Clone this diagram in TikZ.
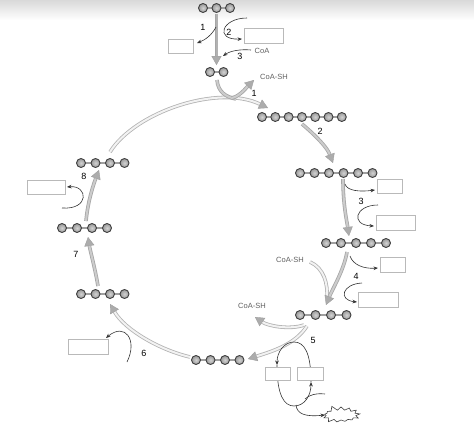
\documentclass[tikz,border=0pt]{standalone}
\usepackage{fontspec}
\setsansfont{Liberation Sans}
\usetikzlibrary{arrows.meta,shapes.symbols}

\tikzset{
  ball/.style={circle,inner sep=0pt,minimum size=9pt,draw=black!75,line width=0.9pt,inner color=gray!35,outer color=gray!80},
  bond/.style={draw=gray!75,line width=1.2pt},
  flow/.style={draw=gray!70,double=gray!40,double distance=2pt,line width=0.8pt,
    -{Triangle[length=9pt,width=10pt,color=gray!75,fill=gray!65,line width=0.4pt]}},
  tube/.style={flow,draw=gray!60,double=gray!10},
  side/.style={draw=black!80,line width=0.6pt,-{Stealth[length=4.5pt,width=3.6pt]}},
  plain/.style={draw=black!80,line width=0.6pt},
  box/.style={draw=gray!55,line width=0.8pt,fill=white,inner sep=0pt},
  num/.style={font=\sffamily\fontsize{9}{10}\selectfont},
  coa/.style={font=\sffamily\fontsize{7.5}{8}\selectfont,text=gray!75!black},
}

% chain of n balls: name, n, x, y, spacing
\newcommand{\chain}[5]{%
  \draw[bond] (#3,#4) -- ++({(#2-1)*#5},0);
  \foreach \i in {1,...,#2}
    \node[ball] (#1-\i) at ({#3+(\i-1)*#5},#4) {};
}

\begin{document}
\begin{tikzpicture}[x=1pt,y=-1pt]
  \useasboundingbox (0,0) rectangle (474,433);
  \shade[top color=gray!30,middle color=gray!45,bottom color=white] (0,0) rectangle (474,20);

  % free ends
  \coordinate (a0) at (110,152);
  \coordinate (a1) at (268,108);
  \coordinate (m0) at (217,80);
  \coordinate (m1) at (236,99);
  \coordinate (m2) at (232,98);
  \coordinate (m3) at (254,80);
  \coordinate (s2a) at (302,124);
  \coordinate (s2b) at (333,163);
  \coordinate (s3a) at (343,179);
  \coordinate (s3b) at (349,236);
  \coordinate (s4a) at (347,252);
  \coordinate (s4b) at (326,305);
  \coordinate (s4c) at (310,262);
  \coordinate (s4d) at (327,298);
  \coordinate (s5a) at (307,326);
  \coordinate (s5b) at (248,359);
  \coordinate (s5c) at (304,325);
  \coordinate (s5d) at (255,317);
  \coordinate (s6a) at (190,357);
  \coordinate (s6b) at (110,304);
  \coordinate (s7a) at (98,286);
  \coordinate (s7b) at (88,237);
  \coordinate (s8a) at (86,221);
  \coordinate (s8b) at (99,170);

  % cycle
  \draw[tube] (a0) .. controls (135,112) and (218,84) .. (a1);
  \draw[flow,-] (m0) .. controls (218,92) and (226,97) .. (m1);
  \draw[flow] (m2) .. controls (240,96) and (246,88) .. (m3);
  \draw[flow] (s2a) .. controls (315,135) and (327,147) .. (s2b);
  \draw[flow] (s3a) .. controls (343,205) and (347,222) .. (s3b);
  \draw[tube,-] (s4c) .. controls (324,268) and (328,284) .. (s4d);
  \draw[flow] (s4a) .. controls (344,270) and (332,290) .. (s4b);
  \draw[tube] (s5c) .. controls (290,330) and (268,326) .. (s5d);
  \draw[tube] (s5a) .. controls (295,345) and (270,352) .. (s5b);
  \draw[tube] (s6a) .. controls (160,350) and (125,330) .. (s6b);
  \draw[flow] (s7a) .. controls (95,268) and (90,250) .. (s7b);
  \draw[flow] (s8a) .. controls (88,200) and (94,183) .. (s8b);

  % chains
  \chain{ch3}{3}{203}{8}{13.5}
  \chain{ch2}{2}{210}{72}{13.5}
  \chain{ch7}{7}{262}{117}{13.3}
  \chain{ch6}{6}{300}{173}{14.5}
  \chain{ch5}{5}{326}{243}{15}
  \chain{ch4a}{4}{300}{315}{15.5}
  \chain{ch4b}{4}{196}{360}{14.5}
  \chain{ch4c}{4}{81}{294}{14.5}
  \chain{ch4d}{4}{62}{228}{15}
  \chain{ch4e}{4}{81}{163}{14.5}

  \draw[flow,double=gray!60] ([yshift=-1pt]ch3-2.south) -- ([yshift=2pt]ch3-2 |- ch2-1.north);

  % boxes
  \node[box,minimum width=25pt,minimum height=14pt] (b1a) at (180.5,46) {};
  \node[box,minimum width=39pt,minimum height=15pt] (b1b) at (263.5,35.5) {};
  \node[box,minimum width=25pt,minimum height=14pt] (b3a) at (389.5,186) {};
  \node[box,minimum width=39pt,minimum height=15pt] (b3b) at (395.5,222.5) {};
  \node[box,minimum width=25pt,minimum height=15pt] (b4a) at (392.5,264.5) {};
  \node[box,minimum width=40pt,minimum height=15pt] (b4b) at (378,299.5) {};
  \node[box,minimum width=40pt,minimum height=15pt] (b6) at (88,346.5) {};
  \node[box,minimum width=38pt,minimum height=14pt] (b8) at (46,187) {};

  % side arrows
  \coordinate (t1a) at (216,27);  \coordinate (t1b) at (197,43);
  \coordinate (t2a) at (247,18);  \coordinate (t2b) at (242,39);
  \coordinate (t3a) at (251,50);  \coordinate (t3b) at (223,56);
  \draw[side] (t1a) .. controls (212,35) and (205,40) .. (t1b);
  \draw[side] (t2a) .. controls (222,18) and (214,40) .. (t2b);
  \draw[side] (t3a) .. controls (240,49) and (230,51) .. (t3b);
  \coordinate (u3a) at (345,184); \coordinate (u3b) at (375,190);
  \coordinate (v3a) at (378,205); \coordinate (v3b) at (374,226);
  \draw[side] (u3a) .. controls (347,191) and (360,192) .. (u3b);
  \draw[side] (v3a) .. controls (355,205) and (350,225) .. (v3b);
  \coordinate (u4a) at (350,256); \coordinate (u4b) at (378,268);
  \coordinate (v4a) at (362,283); \coordinate (v4b) at (357,302);
  \draw[side] (u4a) .. controls (353,265) and (364,269) .. (u4b);
  \draw[side] (v4a) .. controls (342,284) and (338,300) .. (v4b);
  \coordinate (u6a) at (127,362); \coordinate (u6b) at (106,338);
  \draw[side] (u6a) .. controls (138,340) and (125,322) .. (u6b);
  \coordinate (u8a) at (62,208);  \coordinate (u8b) at (67,187);
  \draw[side] (u8a) .. controls (90,210) and (88,185) .. (u8b);

  % loop of step 5
  \coordinate (lt) at (294,342);
  \coordinate (lb) at (294,406);
  \coordinate (ll) at (277,365);
  \coordinate (lr) at (311,382);
  \draw[side] (lt) .. controls (284,342) and (277,352) .. (ll);
  \draw[plain] (ll) .. controls (277,395) and (284,406) .. (lb);
  \draw[side] (lb) .. controls (305,406) and (311,395) .. (lr);
  \draw[plain] (lr) .. controls (311,352) and (304,342) .. (lt);
  \node[box,minimum width=25pt,minimum height=13pt] (b5a) at (277.5,373.5) {};
  \node[box,minimum width=26pt,minimum height=13pt] (b5b) at (310,373.5) {};
  \node[starburst,draw=black!75,fill=white,line width=0.6pt,minimum width=40pt,minimum height=20pt,
        starburst points=13,starburst point height=5pt,random starburst=5] (burst) at (341,415) {};
  \coordinate (w0) at (325,394);
  \coordinate (w1) at (305,399);
  \coordinate (w2) at (296,405);
  \draw[plain] (w0) .. controls (316,393) and (309,395) .. (w1);
  \draw[side] (w2) .. controls (297,414) and (305,417) .. (burst.west);

  % labels
  \node[num] (n1a) at (203,27) {1};
  \node[num] (n2a) at (229,32) {2};
  \node[num] (n3a) at (240,56) {3};
  \node[coa] (coa) at (262,51) {CoA};
  \node[coa] (coash1) at (274,77) {CoA-SH};
  \node[num] (n1) at (254,93) {1};
  \node[num] (n2) at (320,131) {2};
  \node[num] (n3) at (361,201) {3};
  \node[coa] (coash2) at (290,260) {CoA-SH};
  \node[num] (n4) at (356,276) {4};
  \node[coa] (coash3) at (252,306) {CoA-SH};
  \node[num] (n5) at (313,340) {5};
  \node[num] (n6) at (144,353) {6};
  \node[num] (n7) at (76,254) {7};
  \node[num] (n8) at (84,176) {8};
\end{tikzpicture}
\end{document}
